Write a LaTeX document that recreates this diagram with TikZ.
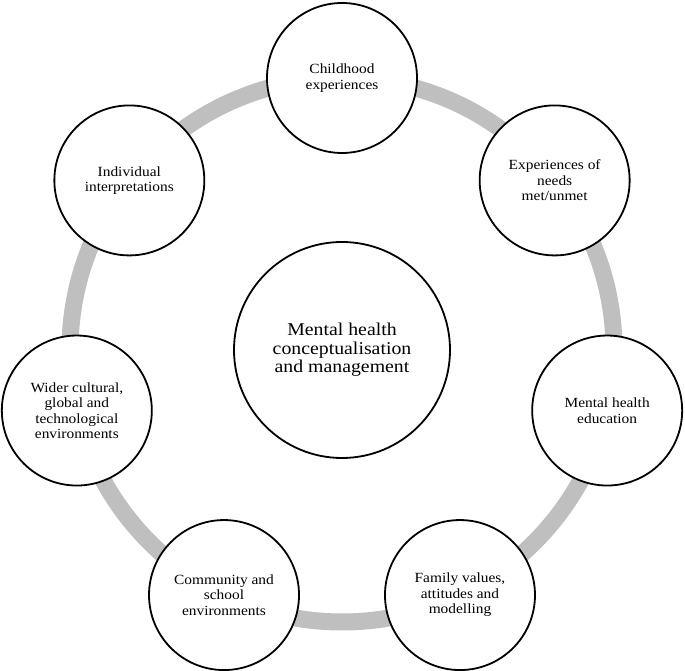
\documentclass[tikz,border=0pt]{standalone}
\usepackage{fontspec}
\setmainfont{Liberation Serif}[FakeStretch=1.1]
\tikzset{
  topic/.style={circle, draw, line width=1.8pt, fill=white, minimum size=150pt,
    inner sep=2pt, align=center, font=\fontsize{14}{15.5}\selectfont},
  core/.style={topic, minimum size=216pt, font=\fontsize{18}{18.5}\selectfont},
  ring/.style={line width=17pt, black!25}
}

\begin{document}
\begin{tikzpicture}[x=1pt, y=1pt]
      \useasboundingbox (0,0) rectangle (685,671);
      \coordinate (hub) at (342,321);
      \draw[ring] (hub) circle (272);
      \node[core] (mhcm) at (hub) {Mental health\\conceptualisation\\and management};
      \node[topic] (child) at ([shift={(90:272)}]hub) {Childhood\\experiences};
      \node[topic] (needs) at ([shift={(38.57:272)}]hub) {Experiences of\\needs\\met/unmet};
      \node[topic] (educ) at ([shift={(-12.86:272)}]hub) {Mental health\\education};
      \node[topic] (family) at ([shift={(-64.29:272)}]hub) {Family values,\\attitudes and\\modelling};
      \node[topic] (school) at ([shift={(-115.71:272)}]hub) {Community and\\school\\environments};
      \node[topic] (wider) at ([shift={(-167.14:272)}]hub) {Wider cultural,\\global and\\technological\\environments};
      \node[topic] (indiv) at ([shift={(141.43:272)}]hub) {Individual\\interpretations};
    \end{tikzpicture}
\end{document}
